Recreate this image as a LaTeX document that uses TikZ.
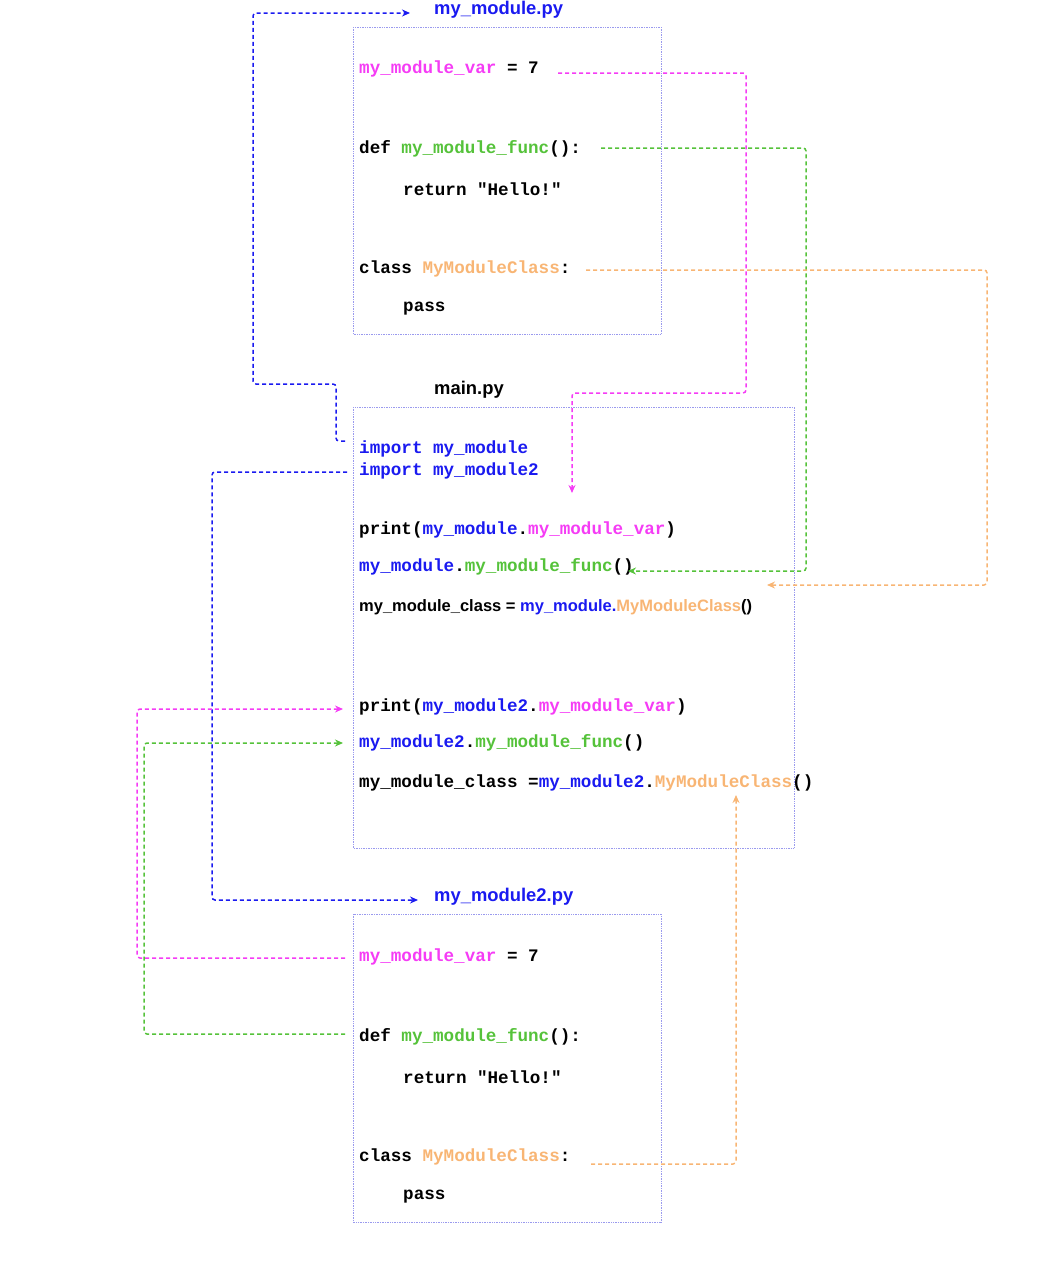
\documentclass[tikz,border=0pt]{standalone}
\usepackage{fontspec}
\setmainfont{Liberation Sans}
\setmonofont{Liberation Mono}
\usetikzlibrary{arrows.meta}
\definecolor{colB}{HTML}{1A1AF0}
\definecolor{colM}{HTML}{F53CF5}
\definecolor{colG}{HTML}{55C23A}
\definecolor{colO}{HTML}{F8B574}
\definecolor{colX}{HTML}{9A9AEE}
\newcommand{\B}[1]{\textcolor{colB}{#1}}
\newcommand{\M}[1]{\textcolor{colM}{#1}}
\newcommand{\G}[1]{\textcolor{colG}{#1}}
\newcommand{\Or}[1]{\textcolor{colO}{#1}}
\begin{document}
\begin{tikzpicture}[x=1pt,y=-1pt,
  box/.style={draw=colX,densely dotted,line width=0.7pt},
  code/.style={anchor=west,inner sep=0pt,font=\fontsize{17.6}{19}\selectfont\ttfamily\bfseries},
  title/.style={anchor=west,inner sep=0pt,font=\fontsize{18.4}{20}\selectfont\bfseries},
  con/.style={dash pattern=on 4pt off 3pt,line width=1.5pt,rounded corners=3pt},
  arr/.style={con,-{Stealth[length=8pt,width=7pt]}}]
\useasboundingbox (0,0) rectangle (1042,1272);
% boxes
\draw[box] (353,27) rectangle (661,334);
\draw[box] (353,407) rectangle (794,848);
\draw[box] (353,914) rectangle (661,1222);
% titles
\node[title,text=colB] (t1) at (434,10) {my\_module.py};
\node[title] (t2) at (434,390) {main.py};
\node[title,text=colB] (t3) at (434,897) {my\_module2.py};
% module 1
\node[code] (a1) at (359,69) {\M{my\_module\_var} = 7};
\node[code] (a2) at (359,149) {def \G{my\_module\_func}():};
\node[code] (a3) at (403,189) {return "Hello!"};
\node[code] (a4) at (359,269) {class \Or{MyModuleClass}:};
\node[code] (a5) at (403,309) {pass};
% main
\node[code,text=colB] (m1) at (359,449) {import my\_module};
\node[code,text=colB] (m2) at (359,471) {import my\_module2};
\node[code] (m3) at (359,530) {print(\B{my\_module}.\M{my\_module\_var})};
\node[code] (m4) at (359,567) {\B{my\_module}.\G{my\_module\_func}()};
\node[anchor=west,inner sep=0pt,font=\fontsize{16.5}{18}\selectfont\bfseries] (m5) at (359,607) {my\_module\_class = \B{my\_module.}\Or{MyModuleClass}()};
\node[code] (m6) at (359,707) {print(\B{my\_module2}.\M{my\_module\_var})};
\node[code] (m7) at (359,743) {\B{my\_module2}.\G{my\_module\_func}()};
\node[code] (m8) at (359,783) {my\_module\_class =\B{my\_module2}.\Or{MyModuleClass}()};
% module 2
\node[code] (b1) at (359,957) {\M{my\_module\_var} = 7};
\node[code] (b2) at (359,1037) {def \G{my\_module\_func}():};
\node[code] (b3) at (403,1077) {return "Hello!"};
\node[code] (b4) at (359,1157) {class \Or{MyModuleClass}:};
\node[code] (b5) at (403,1197) {pass};
% connector end points
\coordinate (s1) at (345,441); \coordinate (e1) at (410,13);
\coordinate (s2) at (347,472); \coordinate (e2) at (418,900);
\coordinate (s3) at (558,73);  \coordinate (e3) at (572,493);
\coordinate (s4) at (601,148); \coordinate (e4) at (628,571);
\coordinate (s5) at (586,270); \coordinate (e5) at (767,585);
\coordinate (s6) at (345,958); \coordinate (e6) at (343,709);
\coordinate (s7) at (345,1034);\coordinate (e7) at (343,743);
\coordinate (s8) at (591,1164);\coordinate (e8) at (736,795);
% connectors
\draw[arr,draw=colB] (s1) -- (336,441) -- (336,384) -- (253,384) -- (253,13) -- (e1);
\draw[arr,draw=colB] (s2) -- (212,472) -- (212,900) -- (e2);
\draw[arr,draw=colM] (s3) -- (746,73) -- (746,393) -- (572,393) -- (e3);
\draw[arr,draw=colG] (s4) -- (806,148) -- (806,571) -- (e4);
\draw[arr,draw=colO] (s5) -- (987,270) -- (987,585) -- (e5);
\draw[arr,draw=colM] (s6) -- (137,958) -- (137,709) -- (e6);
\draw[arr,draw=colG] (s7) -- (144,1034) -- (144,743) -- (e7);
\draw[arr,draw=colO] (s8) -- (736,1164) -- (e8);
\end{tikzpicture}
\end{document}
